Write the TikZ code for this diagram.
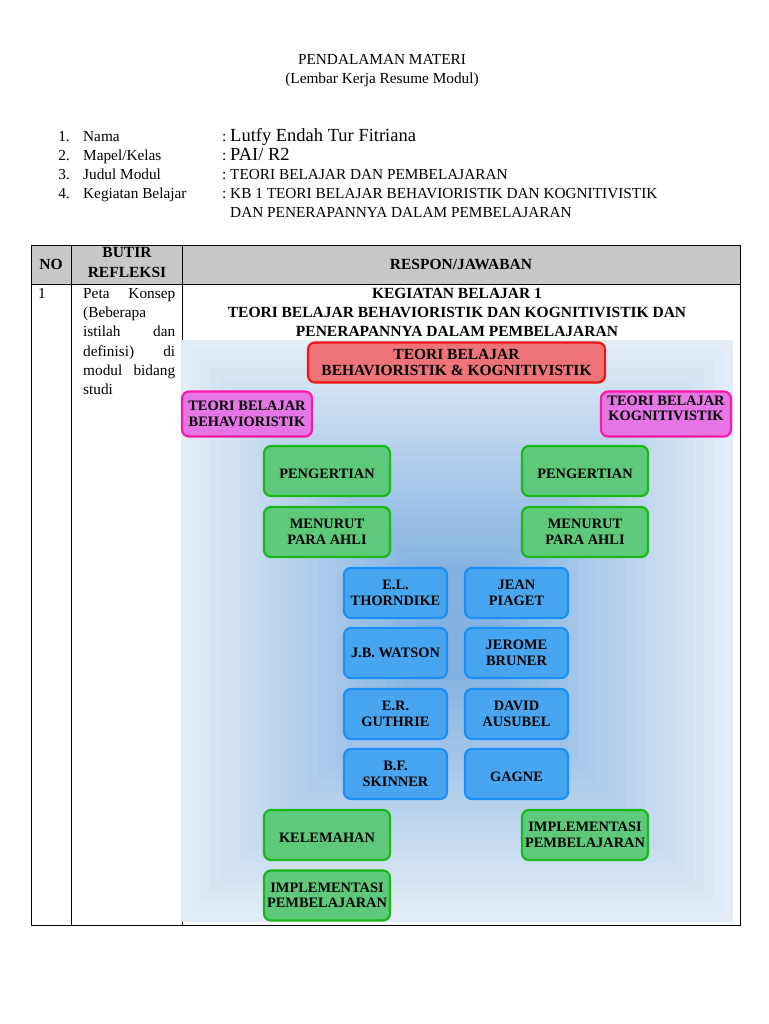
\documentclass[tikz,border=0pt]{standalone}
\usepackage{fontspec}
\setmainfont{Liberation Serif}
\begin{document}
\begin{tikzpicture}[x=1pt,y=-1pt,
  txt/.style={inner sep=0, font=\fontsize{15.3}{19}\selectfont},
  btxt/.style={inner sep=0, font=\bfseries\fontsize{15.5}{19}\selectfont},
  cbox/.style={draw, rounded corners=7pt, line width=2.2pt, inner sep=0, align=center,
     font=\bfseries\fontsize{14.4}{15.5}\selectfont},
  redbox/.style={cbox, fill=boxred, draw=bordred},
  magbox/.style={cbox, fill=boxmag, draw=bordmag},
  grnbox/.style={cbox, fill=boxgrn, draw=bordgrn, minimum width=126pt, minimum height=50pt},
  blubox/.style={cbox, fill=boxblu, draw=bordblu, minimum width=103pt, minimum height=50pt},
]
\definecolor{boxred}{HTML}{EE7479}
\definecolor{bordred}{HTML}{F41414}
\definecolor{boxmag}{HTML}{E676E6}
\definecolor{bordmag}{HTML}{FF18A8}
\definecolor{boxgrn}{HTML}{5EC97A}
\definecolor{bordgrn}{HTML}{18B818}
\definecolor{boxblu}{HTML}{48A6F0}
\definecolor{bordblu}{HTML}{1A90F8}
\definecolor{hdrgray}{HTML}{C8C8C8}
\definecolor{bgout}{HTML}{E2ECF7}
\definecolor{bgin}{HTML}{84B2E0}
\useasboundingbox (0,0) rectangle (768,1024);
\fill[white] (0,0) rectangle (768,1024);

% title
\node[txt, anchor=base] (t1) at (382,65) {PENDALAMAN MATERI};
\node[txt, anchor=base] (t2) at (382,84) {(Lembar Kerja Resume Modul)};

% identity list
\foreach \n/\lab/\yy in {1/Nama/142, 2/Mapel\slash Kelas/161, 3/Judul Modul/180, 4/Kegiatan Belajar/199}{
  \node[txt, anchor=base east] (num\n) at (70,\yy) {\n.};
  \node[txt, anchor=base west] (lab\n) at (83,\yy) {\lab};
  \node[txt, anchor=base west] (col\n) at (222,\yy) {:};
}
\node[txt, anchor=base west, font=\fontsize{18.5}{19}\selectfont] (v1) at (230,142) {Lutfy Endah Tur Fitriana};
\node[txt, anchor=base west, font=\fontsize{18.5}{19}\selectfont] (v2) at (230,161) {PAI/ R2};
\node[txt, anchor=base west] (v3) at (230,180) {TEORI BELAJAR DAN PEMBELAJARAN};
\node[txt, anchor=base west] (v4) at (230,199) {KB 1 TEORI BELAJAR BEHAVIORISTIK DAN KOGNITIVISTIK};
\node[txt, anchor=base west] (v5) at (230,218) {DAN PENERAPANNYA DALAM PEMBELAJARAN};

% table
\fill[hdrgray] (31,245) rectangle (740,284);
\draw[line width=0.9pt] (31,245) rectangle (740,925);
\draw[line width=0.9pt] (31,284) -- (740,284);
\draw[line width=0.9pt] (71,245) -- (71,925);
\draw[line width=0.9pt] (182,245) -- (182,925);

\node[btxt, anchor=base] (hno) at (51,269) {NO};
\node[btxt, anchor=base] (hb1) at (127,258) {BUTIR};
\node[btxt, anchor=base] (hb2) at (127,277) {REFLEKSI};
\node[btxt, anchor=base] (hrs) at (461,269) {RESPON/JAWABAN};

\node[txt, anchor=base west] (r1) at (38,298) {1};
\node[txt, anchor=base west] (b1) at (83,298) {\makebox[92pt][l]{Peta\hfill Konsep}};
\node[txt, anchor=base west] (b2) at (83,317) {(Beberapa};
\node[txt, anchor=base west] (b3) at (83,336) {\makebox[92pt][l]{istilah\hfill dan}};
\node[txt, anchor=base west] (b4) at (83,356) {\makebox[92pt][l]{definisi)\hfill di}};
\node[txt, anchor=base west] (b5) at (83,375) {\makebox[92pt][l]{modul\hfill bidang}};
\node[txt, anchor=base west] (b6) at (83,394) {studi};

\node[btxt, anchor=base] (k1) at (457,298) {KEGIATAN BELAJAR 1};
\node[btxt, anchor=base] (k2) at (457,317) {TEORI BELAJAR BEHAVIORISTIK DAN KOGNITIVISTIK DAN};
\node[btxt, anchor=base] (k3) at (457,336) {PENERAPANNYA DALAM PEMBELAJARAN};

% background (stepped gradient)
\foreach \i in {0,...,24}{
  \pgfmathsetmacro{\f}{\i/24}
  \pgfmathsetmacro{\pc}{100-100*\f}
  \colorlet{stepc}{bgout!\pc!bgin}
  \fill[stepc] ({181+\f*(415-181)},{340+\f*(565-340)}) rectangle ({733-\f*(733-500)},{922-\f*(922-680)});
}

% boxes
\node[redbox, minimum width=297pt, minimum height=40pt, font=\bfseries\fontsize{15.5}{16}\selectfont] (top) at (456.5,362.5) {TEORI BELAJAR\\BEHAVIORISTIK \& KOGNITIVISTIK};
\node[magbox, minimum width=130pt, minimum height=45pt] (beh) at (247,414) {TEORI BELAJAR\\BEHAVIORISTIK};
\node[magbox, minimum width=130pt, minimum height=45pt] (kog) at (666,414) {TEORI BELAJAR\\KOGNITIVISTIK\\[-4pt]\mbox{}};

\node[grnbox] (pl) at (327,471) {\mbox{}\\PENGERTIAN};
\node[grnbox] (pr) at (585,471) {\mbox{}\\PENGERTIAN};
\node[grnbox] (ml) at (327,532) {MENURUT\\PARA AHLI};
\node[grnbox] (mr) at (585,532) {MENURUT\\PARA AHLI};

\node[blubox] (thorn) at (395.5,593) {E.L.\\THORNDIKE};
\node[blubox] (watson) at (395.5,653) {J.B. WATSON};
\node[blubox] (guth) at (395.5,714) {E.R.\\GUTHRIE};
\node[blubox] (skin) at (395.5,774) {B.F.\\SKINNER};
\node[blubox] (piag) at (516.5,593) {JEAN\\PIAGET};
\node[blubox] (brun) at (516.5,653) {JEROME\\BRUNER};
\node[blubox] (ausu) at (516.5,714) {DAVID\\AUSUBEL};
\node[blubox] (gagne) at (516.5,774) {\mbox{}\\GAGNE};

\node[grnbox] (kel) at (327,835) {\mbox{}\\KELEMAHAN};
\node[grnbox] (impr) at (585,835) {IMPLEMENTASI\\PEMBELAJARAN};
\node[grnbox] (impl) at (327,895.5) {IMPLEMENTASI\\PEMBELAJARAN};
\end{tikzpicture}
\end{document}
